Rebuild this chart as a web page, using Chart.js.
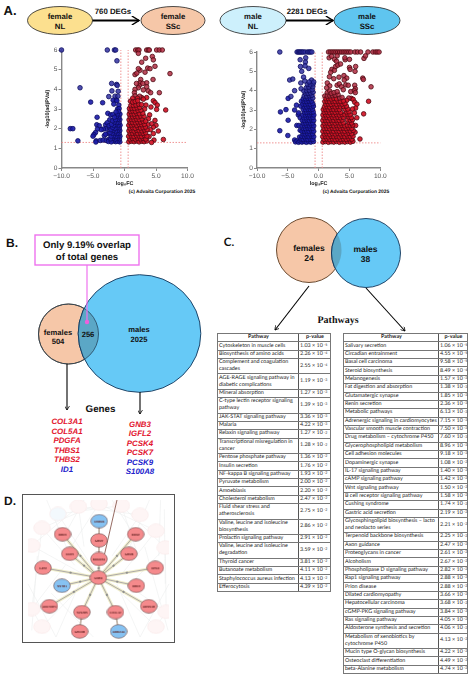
<!DOCTYPE html>
<html>
<head>
<meta charset="utf-8">
<script src="https://cdn.jsdelivr.net/npm/chart.js@4/dist/chart.umd.min.js"></script>
<style>
html, body { margin: 0; padding: 0; background: #fff; text-rendering: geometricPrecision; }
#page { position: relative; width: 474px; height: 679px; overflow: hidden; font-family: "Liberation Sans", sans-serif; }
#page canvas { position: absolute; }
#art { position: absolute; left: 0; top: 0; }
#art text { font-family: "Liberation Sans", sans-serif; font-weight: bold; text-anchor: middle; fill: #111; }
.ptable { position: absolute; border: 1px solid #777; border-bottom: 0; font-family: Lato, sans-serif; font-size: 5.4px; line-height: 7.02px; color: #222; box-sizing: border-box; }
.prow { display: flex; border-bottom: 1px solid #777; }
.pname { flex: 1; padding: .18px 0 .18px 1px; border-right: 1px solid #555; white-space: pre-line; }
.pval { display: flex; align-items: center; padding-left: 1px; box-sizing: border-box; white-space: nowrap; }
.phead { font-weight: bold; text-align: center; justify-content: center; }
.pval sup { font-size: 3.6px; line-height: 0; margin-left: 1px; position: relative; top: -1.3px; }
#netbox { position: absolute; left: 22px; top: 494px; width: 151px; height: 147px; border: 1px solid #555; }
</style>
</head>
<body>
<div id="page">
<svg id="art" width="474" height="679" viewBox="0 0 474 679">
  <defs>
    <marker id="head" viewBox="0 0 10 10" refX="9" refY="5" markerWidth="5" markerHeight="5" orient="auto-start-reverse" markerUnits="userSpaceOnUse">
      <path d="M1 0 L9 5 L1 10" fill="none" stroke="#000" stroke-width="1.5"/>
    </marker>
    <marker id="bighead" viewBox="0 0 10 10" refX="9" refY="5" markerWidth="9" markerHeight="9" orient="auto" markerUnits="userSpaceOnUse">
      <path d="M1 0 L9 5 L1 10" fill="none" stroke="#000" stroke-width="1.6"/>
    </marker>
    <clipPath id="bothB"><circle cx="68.5" cy="334" r="30"/></clipPath>
    <clipPath id="bothC"><circle cx="309" cy="250" r="32.5"/></clipPath>
  </defs>

  <!-- panel A headers -->
  <text x="10" y="15" style="font-size:13px">A.</text>
  <ellipse cx="60" cy="20.5" rx="32.5" ry="14" fill="#fce08f" stroke="#222" stroke-width=".8"/>
  <ellipse cx="173" cy="20.5" rx="32" ry="14" fill="#f6c7a8" stroke="#222" stroke-width=".8"/>
  <ellipse cx="253" cy="20.5" rx="33" ry="14" fill="#cdf0fc" stroke="#222" stroke-width=".8"/>
  <ellipse cx="367" cy="20.5" rx="33" ry="14" fill="#5fc5ef" stroke="#222" stroke-width=".8"/>
  <g style="font-size:7.8px">
    <text x="60" y="19">female</text><text x="60" y="28.5">NL</text>
    <text x="173" y="19">female</text><text x="173" y="28.5">SSc</text>
    <text x="253" y="19">male</text><text x="253" y="28.5">NL</text>
    <text x="367" y="19">male</text><text x="367" y="28.5">SSc</text>
    <text x="113" y="14">760 DEGs</text>
    <text x="307" y="14">2281 DEGs</text>
  </g>
  <line x1="92.5" y1="20.5" x2="139" y2="20.5" stroke="#000" stroke-width="2" marker-end="url(#bighead)"/>
  <line x1="286" y1="20.5" x2="333" y2="20.5" stroke="#000" stroke-width="2" marker-end="url(#bighead)"/>
  <g style="font-size:4.9px">
    <text x="162" y="193">(c) Advaita Corporation 2025</text>
    <text x="356" y="193">(c) Advaita Corporation 2025</text>
  </g>

  <!-- panel B -->
  <text x="12" y="247" style="font-size:12px">B.</text>
  <rect x="35" y="235" width="104" height="30" fill="#fff" stroke="#ee72ee" stroke-width="1.4"/>
  <g style="font-size:9.6px">
    <text x="87" y="248">Only 9.19% overlap</text>
    <text x="87" y="259.5">of total genes</text>
  </g>
  <circle cx="68.5" cy="334" r="30" fill="#f6c7a8" stroke="#5b3a1e" stroke-width=".9"/>
  <ellipse cx="139.5" cy="333.5" rx="61.3" ry="58.8" fill="#66c9f6" stroke="#12355a" stroke-width=".9"/>
  <ellipse cx="139.5" cy="333.5" rx="61.3" ry="58.8" fill="#5ba7c6" stroke="#12355a" stroke-width=".9" clip-path="url(#bothB)"/>
  <circle cx="68.5" cy="334" r="30" fill="none" stroke="#24445c" stroke-width=".8"/>
  <line x1="87" y1="265" x2="87" y2="322" stroke="#ee72ee" stroke-width="1.2"/>
  <circle cx="87" cy="322" r="2.2" fill="#ee60dd"/>
  <g style="font-size:7.6px">
    <text x="58" y="334.5">females</text><text x="58" y="344">504</text>
    <text x="88" y="336.5">256</text>
    <text x="139" y="332">males</text><text x="139" y="341.5">2025</text>
  </g>
  <line x1="67" y1="364" x2="67" y2="410" stroke="#000" stroke-width="1.1" marker-end="url(#head)"/>
  <line x1="140" y1="392" x2="140" y2="414" stroke="#000" stroke-width="1.1" marker-end="url(#head)"/>
  <text x="100.5" y="412" style="font-size:9.8px">Genes</text>
  <g id="genes" style="font-size:7.9px; font-style:italic"></g>

  <!-- panel C -->
  <text x="229" y="246" style="font-size:11.5px; font-family:Lato,sans-serif">C.</text>
  <circle cx="309" cy="250" r="32.5" fill="#f6c7a8" stroke="#5b3a1e" stroke-width=".9"/>
  <circle cx="366" cy="253" r="34.5" fill="#66c9f6" stroke="#12355a" stroke-width=".9"/>
  <circle cx="366" cy="253" r="34.5" fill="#5ba7c6" stroke="#12355a" stroke-width=".9" clip-path="url(#bothC)"/>
  <g style="font-size:8.5px">
    <text x="309" y="250.5">females</text><text x="309" y="261">24</text>
    <text x="365.5" y="251.5">males</text><text x="365.5" y="262">38</text>
  </g>
  <line x1="309" y1="286" x2="275" y2="330" stroke="#000" stroke-width="1.1" marker-end="url(#head)"/>
  <line x1="366" y1="288" x2="405" y2="331" stroke="#000" stroke-width="1.1" marker-end="url(#head)"/>
  <text x="338" y="323" style="font-size:10px; font-family:'Liberation Serif',serif">Pathways</text>

  <!-- panel D -->
  <text x="10" y="505" style="font-size:12px">D.</text>
</svg>

<canvas id="femaleChart" width="156" height="145" style="left:44px;top:42px"></canvas>
<canvas id="maleChart" width="153" height="143" style="left:240px;top:44px"></canvas>
<div id="netbox"></div>
<canvas id="netChart" width="151" height="147" style="left:23px;top:495px"></canvas>
<div id="leftTable" class="ptable" style="left:217px;top:333px;width:114px"></div>
<div id="rightTable" class="ptable" style="left:343px;top:333px;width:125px"></div>
</div>

<script>
const xTicks = [-10, -5, 0, 5, 10];
const yTicks = [0, 1, 2, 3, 4, 5, 6];
const fcCut = 0.58;
const padjCut = 1.3;

const femaleDown = [
  [-10,6],[-2.73,6],[-1.6,6],[-1.4,6],[-1.2,5.45],[-7.06,4.08],[-5.37,3.35],[-3.47,3.32],[-2.04,4.3],[-1.25,4.25],[-1.15,4.2],
  [-1.0,3.9],[-2.0,3.92],[-2.5,3.63],[-1.5,3.65],[-1.05,3.65],[-1.8,3.45],[-1.3,3.45],[-1.2,3.42],[-0.9,3.2],[-1.7,3.25],
  [-1.1,3.0],[-0.85,3.02],[-8.6,2.0],[-8.2,2.0],[-7.4,1.38],[-4.35,2.58],[-4.4,2.2],[-4.0,2.15],[-2.65,2.78],[-2.2,2.7],
  [-1.85,2.72],[-2.35,2.45],[-3.0,2.2],[-2.9,2.0],[-3.35,1.98],[-3.7,1.95],[-4.3,1.98],[-4.6,1.8],[-4.85,1.7],[-5.0,1.62],
  [-3.2,1.65],[-2.6,1.75],[-4.5,1.38],[-4.55,1.32],[-3.85,1.4],[-3.4,1.42],[-2.9,1.4],[-3.0,1.72],[-2.5,1.45],[-2.4,2.05],
  [-2.55,1.35],[-2.75,2.3],[-2.45,2.15],[-0.75,1.33],[-1.05,1.36],[-1.4,1.34],[-1.75,1.37],[-2.1,1.33],[-0.8,1.48],[-1.15,1.5],
  [-1.5,1.47],[-1.85,1.51],[-2.2,1.48],[-0.72,1.62],[-1.05,1.63],[-1.38,1.6],[-1.72,1.64],[-2.12,1.62],[-0.85,1.76],[-1.2,1.75],
  [-1.55,1.78],[-1.95,1.76],[-2.3,1.8],[-0.74,1.9],[-1.08,1.91],[-1.42,1.88],[-1.78,1.92],[-2.15,1.95],[-0.82,2.04],[-1.18,2.05],
  [-1.52,2.02],[-1.88,2.07],[-0.7,2.18],[-1.02,2.18],[-1.38,2.2],[-1.72,2.17],[-2.05,2.22],[-0.86,2.32],[-1.22,2.31],[-1.58,2.34],
  [-1.9,2.4],[-0.74,2.46],[-1.06,2.47],[-1.44,2.46],[-0.88,2.6],[-1.26,2.62],[-1.6,2.58],[-0.72,2.74],[-1.1,2.75],[-0.95,2.88],
  [-1.35,2.85]
];
const femaleUp = [
  [1.77,6],[2.09,6],[2.3,6],[3.52,6],[3.78,6],[3.94,6],[5.1,6],[5.53,6],[6.0,6],[2.2,5.83],[3.36,5.58],[2.73,5.38],[4.42,5.67],
  [4.58,5.5],[4.84,5.17],[3.68,5.08],[4.05,5.05],[3.26,4.87],[2.46,4.97],[2.2,5.05],[1.67,4.75],[1.95,4.82],[7.22,4.8],[4.53,4.5],
  [3.52,4.33],[3.52,4.13],[2.57,4.5],[2.46,4.33],[2.35,4.2],[2.2,4.08],[1.67,4.0],[1.57,3.83],[1.67,3.67],[3.0,3.97],[3.78,3.92],
  [4.15,3.83],[2.73,3.58],[3.52,3.58],[3.0,3.5],[5.53,3.83],[4.58,3.42],[4.84,3.33],[5.2,3.2],[6.54,2.95],[5.1,2.98],[3.99,2.7],
  [4.84,2.42],[5.0,2.17],[4.58,2.08],[4.3,2.25],[5.37,1.88],[4.58,1.75],[6.17,1.45],[4.68,1.42],[4.3,1.3],[3.9,1.6],[4.1,1.95],
  [3.8,2.5],[3.7,2.2],[2.9,4.3],[1.9,4.3],[3.4,3.2],[3.2,3.0],[4.2,3.1],[2.4,3.65],[2.05,3.55],[1.3,3.55],[0.95,3.4],

  [0.68,1.33],[1.1,1.36],[1.52,1.34],[1.94,1.37],[2.32,1.33],[2.75,1.36],[3.12,1.34],[3.55,1.37],
  [0.85,1.47],[1.28,1.5],[1.7,1.47],[2.1,1.51],[2.55,1.48],[2.95,1.5],[3.38,1.47],
  [0.66,1.61],[1.08,1.63],[1.5,1.6],[1.92,1.64],[2.34,1.62],[2.74,1.6],[3.15,1.65],[3.56,1.62],
  [0.88,1.75],[1.3,1.76],[1.72,1.78],[2.12,1.75],[2.52,1.78],[2.96,1.76],[3.36,1.79],
  [0.7,1.89],[1.1,1.91],[1.52,1.88],[1.92,1.92],[2.33,1.9],[2.76,1.89],[3.18,1.93],[3.58,1.95],
  [0.86,2.03],[1.3,2.05],[1.7,2.02],[2.14,2.06],[2.55,2.03],[2.95,2.05],[3.34,2.08],
  [0.68,2.17],[1.12,2.18],[1.5,2.2],[1.94,2.17],[2.35,2.21],[2.75,2.2],[3.15,2.22],
  [0.88,2.31],[1.28,2.32],[1.72,2.3],[2.12,2.34],[2.56,2.33],[2.98,2.36],[3.35,2.38],
  [0.72,2.45],[1.1,2.47],[1.52,2.45],[1.92,2.48],[2.34,2.46],[2.78,2.5],
  [0.9,2.6],[1.3,2.6],[1.7,2.62],[2.14,2.6],[2.55,2.64],[3.1,2.62],
  [0.75,2.74],[1.15,2.75],[1.55,2.74],[1.95,2.77],[2.36,2.76],[2.9,2.78],
  [0.92,2.88],[1.32,2.9],[1.74,2.88],[2.15,2.92],[2.6,2.94],
  [0.78,3.02],[1.18,3.04],[1.6,3.03],[2.0,3.06],[2.42,3.08],
  [1.0,3.17],[1.4,3.18],[1.82,3.2],[2.26,3.24],[2.7,3.22],
  [1.3,3.35],[1.7,3.38],[2.1,3.42]
];
const maleDown = [
  [-6.3,6],[-3.5,6],[-3.3,6],[-3.1,6],[-2.9,6],[-2.7,6],[-2.5,6],[-2.2,6],[-1.8,6],[-1.55,6],[-1.35,6],[-1.1,6],[-2.1,5.7],[-2.15,5.48],
  [-3.0,5.6],[-2.95,5.25],[-2.2,5.28],[-1.6,5.15],[-2.75,5.0],[-2.45,4.7],[-2.9,4.4],[-2.85,4.1],[-1.15,4.55],[-6.3,1.93],[-5.0,1.68],
  [-4.95,2.47],[-6.2,2.9],[-5.3,3.02],[-4.95,3.6],[-4.5,3.7],[-3.9,4.0],[-4.7,4.55],[-4.2,4.6],[-3.6,3.25],[-3.9,3.0],[-3.3,2.75],
  [-3.0,2.6],[-3.55,2.2],[-3.2,2.2],[-3.25,2.85],[-2.9,3.2],[-2.8,3.45],[-3.0,1.95],[-3.1,1.6],[-3.9,1.45],[-3.75,1.35],[-3.5,1.4],
  [-3.25,1.33],[-3.0,1.38],[-2.7,1.34],[-2.35,1.37],[-2.0,1.33],[-1.6,1.36],[-1.25,1.34],[-0.85,1.37],
  [-2.85,1.5],[-2.5,1.48],[-2.1,1.5],[-1.72,1.47],[-1.35,1.5],[-0.95,1.48],[-2.7,1.63],[-2.3,1.62],[-1.92,1.64],[-1.55,1.62],[-1.15,1.64],[-0.8,1.62],
  [-2.55,1.77],[-2.18,1.76],[-1.78,1.78],[-1.38,1.76],[-0.98,1.77],[-2.7,1.9],[-2.3,1.9],[-1.95,1.92],[-1.55,1.9],[-1.15,1.92],[-0.8,1.9],
  [-2.5,2.04],[-2.12,2.04],[-1.72,2.06],[-1.35,2.04],[-0.95,2.05],[-2.7,2.18],[-2.3,2.18],[-1.92,2.2],[-1.5,2.18],[-1.12,2.2],[-0.8,2.18],
  [-2.48,2.32],[-2.08,2.32],[-1.7,2.34],[-1.32,2.32],[-0.95,2.33],[-2.65,2.46],[-2.28,2.46],[-1.88,2.48],[-1.5,2.46],[-1.12,2.48],[-0.8,2.46],
  [-2.42,2.6],[-2.02,2.6],[-1.62,2.62],[-1.28,2.6],[-0.92,2.61],[-2.55,2.74],[-2.15,2.74],[-1.78,2.76],[-1.42,2.74],[-1.08,2.76],[-0.78,2.74],
  [-2.3,2.88],[-1.92,2.88],[-1.55,2.9],[-1.2,2.88],[-0.88,2.9],[-2.5,3.02],[-2.1,3.02],[-1.7,3.04],[-1.32,3.02],[-1.0,3.04],
  [-2.35,3.16],[-1.95,3.16],[-1.55,3.18],[-1.18,3.16],[-0.85,3.2],[-2.55,3.3],[-2.15,3.3],[-1.75,3.32],[-1.35,3.3],[-0.95,3.33],
  [-2.35,3.44],[-1.95,3.44],[-1.55,3.46],[-1.15,3.46],[-2.5,3.58],[-2.12,3.58],[-1.72,3.6],[-1.32,3.58],[-0.95,3.62],
  [-2.35,3.72],[-1.95,3.72],[-1.5,3.74],[-1.1,3.76],[-2.15,3.86],[-1.72,3.86],[-1.3,3.88],[-0.9,3.92],[-2.4,3.98],[-1.95,4.0],[-1.5,4.02],[-1.05,4.05],
  [-2.0,4.15],[-1.6,4.18],[-0.95,4.2],[-1.8,4.32],[-1.35,4.3],[-0.9,4.35],[-1.55,4.45],[-2.25,4.5],[-0.8,4.45]
];
const maleUp = [
  [1.6,6],[1.9,6],[2.2,6],[2.5,6],[2.8,6],[3.1,6],[3.4,6],[3.7,6],[4.0,6],[4.3,6],[4.6,6],[4.9,6],[5.2,6],[5.9,6],[6.3,6],[6.8,6],[8.0,6],
  [8.8,6],[9.2,6],[9.5,6],[9.8,6],[7.35,5.67],[7.6,5.8],[1.7,5.7],[2.1,5.78],[2.6,5.62],[2.9,5.52],[3.0,5.8],[4.3,5.6],[4.25,5.7],[5.0,5.62],
  [2.75,5.25],[3.1,5.32],[3.55,5.38],[2.15,5.1],[2.55,5.05],[1.95,4.95],[5.0,5.2],[5.1,5.1],[6.0,5.25],[5.9,5.0],[1.75,4.72],[2.45,4.62],
  [3.3,4.7],[4.1,4.78],[4.55,4.65],[4.15,4.55],[7.15,4.65],[7.25,4.58],[1.4,4.4],[1.8,4.25],[1.3,4.15],[3.0,4.28],[3.35,4.35],[3.7,4.2],
  [4.0,4.05],[4.4,4.3],[4.8,4.28],[5.2,3.95],[5.85,4.28],[5.95,4.1],[5.8,4.0],[5.95,3.9],[8.5,4.2],[8.1,3.45],[7.3,2.8],[6.7,1.5],[6.2,2.6],
  [6.0,2.2],[5.9,1.85],[5.3,3.6],[5.6,3.55],[5.85,3.4],[6.2,3.3],[4.9,3.62],[4.55,3.5],[6.0,3.1],[5.5,3.05],[5.8,2.85],[1.4,3.9],[1.0,3.72],[1.8,3.98],

  [0.7,1.34],[1.12,1.37],[1.58,1.33],[2.02,1.36],[2.46,1.34],[2.9,1.37],[3.36,1.33],[3.8,1.36],[4.26,1.34],[4.7,1.37],[5.15,1.34],[5.55,1.38],
  [0.88,1.48],[1.35,1.5],[1.8,1.48],[2.24,1.5],[2.68,1.47],[3.12,1.5],[3.58,1.48],[4.02,1.5],[4.48,1.48],[4.92,1.51],[5.38,1.49],
  [0.66,1.62],[1.12,1.63],[1.56,1.61],[2.0,1.64],[2.46,1.62],[2.9,1.64],[3.35,1.61],[3.78,1.64],[4.24,1.62],[4.7,1.65],[5.14,1.62],[5.58,1.64],
  [0.9,1.76],[1.34,1.77],[1.78,1.75],[2.22,1.78],[2.68,1.76],[3.14,1.78],[3.56,1.76],[4.0,1.78],[4.46,1.76],[4.92,1.79],[5.36,1.77],
  [0.68,1.9],[1.12,1.91],[1.56,1.89],[2.02,1.92],[2.44,1.9],[2.9,1.92],[3.34,1.9],[3.8,1.92],[4.24,1.9],[4.7,1.93],[5.14,1.91],[5.6,1.94],
  [0.88,2.04],[1.34,2.05],[1.8,2.03],[2.24,2.06],[2.66,2.04],[3.12,2.06],[3.56,2.04],[4.02,2.06],[4.46,2.04],[4.9,2.07],[5.36,2.05],
  [0.7,2.18],[1.14,2.19],[1.58,2.17],[2.0,2.2],[2.46,2.18],[2.92,2.2],[3.36,2.18],[3.78,2.2],[4.24,2.18],[4.68,2.21],[5.12,2.19],[5.52,2.22],
  [0.9,2.32],[1.36,2.33],[1.78,2.31],[2.22,2.34],[2.68,2.32],[3.14,2.34],[3.58,2.32],[4.0,2.34],[4.92,2.35],[5.34,2.33],
  [0.68,2.46],[1.12,2.47],[1.56,2.45],[2.0,2.48],[2.46,2.46],[2.9,2.48],[3.34,2.46],[3.8,2.48],[4.7,2.49],[5.14,2.47],[5.5,2.5],
  [0.88,2.6],[1.34,2.61],[1.8,2.59],[2.24,2.62],[2.68,2.6],[3.12,2.62],[3.58,2.6],[4.02,2.62],[4.9,2.63],[5.3,2.61],
  [0.7,2.74],[1.14,2.75],[1.58,2.73],[2.0,2.76],[2.46,2.74],[2.9,2.76],[3.36,2.74],[3.8,2.76],[4.26,2.75],[4.72,2.77],[5.1,2.76],
  [0.9,2.88],[1.36,2.89],[1.78,2.87],[2.22,2.9],[2.68,2.88],[3.14,2.9],[3.58,2.88],[4.5,2.9],[4.92,2.91],
  [0.75,3.02],[1.14,3.03],[1.58,3.01],[2.02,3.04],[2.46,3.02],[2.9,3.04],[3.36,3.02],[4.26,3.04],[4.72,3.05],
  [0.95,3.16],[1.36,3.17],[1.8,3.15],[2.24,3.18],[2.68,3.16],[3.12,3.18],[3.58,3.16],[4.02,3.18],[4.5,3.2],
  [1.15,3.3],[1.58,3.31],[2.02,3.29],[2.46,3.32],[2.9,3.3],[3.36,3.32],[3.8,3.3],[4.26,3.33],
  [1.0,3.44],[1.36,3.45],[1.8,3.43],[2.24,3.46],[2.68,3.44],[3.14,3.46],[3.58,3.44],[4.02,3.47],
  [1.2,3.58],[1.6,3.59],[2.02,3.57],[2.46,3.6],[2.9,3.58],[3.4,3.62],[3.8,3.65],
  [1.4,3.72],[1.82,3.73],[2.24,3.74],[2.7,3.76],[3.15,3.8],[2.05,3.86],[2.5,3.9],[3.0,3.95]
];

const geneFemale = ["COL3A1", "COL5A1", "PDGFA", "THBS1", "THBS2", "ID1"];
const geneFemaleDir = ["up", "up", "up", "up", "up", "down"];
const geneMale = ["GNB3", "IGFL2", "PCSK4", "PCSK7", "PCSK9", "S100A8"];
const geneMaleDir = ["up", "up", "up", "up", "down", "down"];

const femalePathways = ["Cytoskeleton in muscle cells", "Biosynthesis of amino acids", "Complement and coagulation\ncascades", "AGE-RAGE signaling pathway in\ndiabetic complications", "Mineral absorption", "C-type lectin receptor signaling\npathway", "JAK-STAT signaling pathway", "Malaria", "Relaxin signaling pathway", "Transcriptional misregulation in\ncancer", "Pentose phosphate pathway", "Insulin secretion", "NF-kappa B signaling pathway", "Pyruvate metabolism", "Amoebiasis", "Cholesterol metabolism", "Fluid shear stress and\natherosclerosis", "Valine, leucine and isoleucine\nbiosynthesis", "Prolactin signaling pathway", "Valine, leucine and isoleucine\ndegradation", "Thyroid cancer", "Butanoate metabolism", "Staphylococcus aureus infection", "Efferocytosis"];
const femaleP = ["1.03", "2.26", "2.55", "1.19", "1.27", "1.39", "3.36", "4.22", "1.27", "1.28", "1.36", "1.76", "1.93", "2.00", "2.20", "2.47", "2.75", "2.86", "2.91", "3.59", "3.81", "4.11", "4.13", "4.39"];
const femaleExp = [-5, -4, -4, -3, -3, -3, -3, -3, -2, -2, -2, -2, -2, -2, -2, -2, -2, -2, -2, -2, -2, -2, -2, -2];

const malePathways = ["Salivary secretion", "Circadian entrainment", "Basal cell carcinoma", "Steroid biosynthesis", "Melanogenesis", "Fat digestion and absorption", "Glutamatergic synapse", "Renin secretion", "Metabolic pathways", "Adrenergic signaling in cardiomyocytes", "Vascular smooth muscle contraction", "Drug metabolism – cytochrome P450", "Glycerophospholipid metabolism", "Cell adhesion molecules", "Dopaminergic synapse", "IL-17 signaling pathway", "cAMP signaling pathway", "Wnt signaling pathway", "B cell receptor signaling pathway", "Cushing syndrome", "Gastric acid secretion", "Glycosphingolipid biosynthesis – lacto\nand neolacto series", "Terpenoid backbone biosynthesis", "Axon guidance", "Proteoglycans in cancer", "Alcoholism", "Phospholipase D signaling pathway", "Rap1 signaling pathway", "Prion disease", "Dilated cardiomyopathy", "Hepatocellular carcinoma", "cGMP-PKG signaling pathway", "Ras signaling pathway", "Aldosterone synthesis and secretion", "Metabolism of xenobiotics by\ncytochrome P450", "Mucin type O-glycan biosynthesis", "Osteoclast differentiation", "beta-Alanine metabolism"];
const maleP = ["1.06", "4.55", "9.58", "8.49", "1.57", "1.38", "1.85", "2.36", "6.13", "7.15", "7.50", "7.60", "8.96", "9.18", "1.08", "1.40", "1.42", "1.50", "1.58", "1.74", "2.19", "2.21", "2.25", "2.47", "2.61", "2.67", "2.82", "2.88", "2.88", "3.66", "3.68", "3.84", "4.05", "4.06", "4.13", "4.22", "4.49", "4.74"];
const maleExp = [-5, -5, -5, -4, -3, -3, -3, -3, -3, -3, -3, -3, -3, -3, -2, -2, -2, -2, -2, -2, -2, -2, -2, -2, -2, -2, -2, -2, -2, -2, -2, -2, -2, -2, -2, -2, -2, -2];

const netNames = ["GNB3", "CHRM1", "GRM7", "BDKRB1", "DRD5", "EDN2", "CCR5", "GRM8", "GIPR", "OPN4", "SSTR1", "DRD2", "ADCYAP1", "ADSS1R", "TAS2R5", "CXCL12", "GHCR8", "ADRA1A"];
const netKind = ["up", "down", "up", "up", "up", "up", "up", "up", "up", "up", "down", "up", "up", "up", "up", "up", "up", "down"];
const netX = [75.3, 76.3, 76, 76, 37, 115.3, 44.7, 108, 16, 136.3, 36.3, 116, 23, 129.3, 57.7, 93.7, 55.3, 97];
const netY = [83.3, 22.7, 43.3, 63.3, 36.7, 36.7, 57.7, 57.7, 72.7, 72.7, 92, 92, 114, 114, 120.3, 120.3, 141, 141];
const spokes = [3, 4, 5, 6, 7, 8, 9, 10, 11, 12, 13, 14, 15];
const chainFrom = [1, 2, 14, 15];
const chainTo = [2, 3, 16, 17];
const faintNodeX = [32, 54, 76, 100, 120, 137, 15, 4, 147, 4, 15, 137, 148];
const faintNodeY = [15, 7, 4, 6, 16, 33, 30, 49, 51, 117, 136, 136, 120];
const faintLines = [
  [32,15,76,83],[54,7,60,50],[76,4,40,60],[100,6,118,60],[120,16,90,60],[137,33,100,80],[15,30,50,70],[4,49,60,80],[147,51,110,90],
  [4,117,40,70],[15,136,50,100],[137,136,100,100],[148,120,105,90],[32,15,100,6],[54,7,120,16],[15,30,76,4],[137,33,76,4],[4,49,54,7],
  [147,51,100,6],[4,117,15,136],[148,120,137,136],[15,30,4,117],[147,51,148,120],[30,147,55,90],[120,147,95,90],[0,90,30,147],[151,90,120,147],
  [20,0,45,60],[130,0,105,60],[60,0,35,45],[90,0,115,40],[146,10,147,90],[142,0,140,60],[125,50,150,140],[10,60,4,140],[25,100,70,147]
];
const brownLine = [[95.3, 0], [82, 58]];

const pointStyles = {
  fill: { down: "rgba(30,30,170,.92)", up: "rgba(212,18,38,.92)" },
  sparse: { down: "rgba(48,48,160,.85)", up: "rgba(176,44,66,.85)" },
  edge: { down: "#0c0c60", up: "#4c0a12" }
};

// canvas text otherwise gets hinted advances and runs too wide at these small sizes
const crispText = { id: "crispText", beforeDraw: chart => { chart.ctx.textRendering = "geometricPrecision"; } };

function volcano(id, down, up, areaLeft, padR, padT) {
  const guide = (data) => ({
    type: "scatter", data: data, showLine: true, borderColor: "#ee8a8a", borderWidth: .9, borderDash: [1.5, 1.5],
    pointRadius: 0, clip: false, order: 3
  });
  const cloud = (pts, kind) => ({
    data: pts.map(p => ({ x: p[0], y: p[1] })),
    backgroundColor: pts.map(p => (p[1] > 3.6 ? pointStyles.sparse[kind] : pointStyles.fill[kind])),
    borderColor: pointStyles.edge[kind],
    borderWidth: .8, pointRadius: 2.3, clip: false, order: 1
  });
  return new Chart(document.getElementById(id), {
    type: "scatter",
    plugins: [crispText],
    data: {
      datasets: [
        guide([{ x: -10, y: padjCut }, { x: 10, y: padjCut }]),
        guide([{ x: -fcCut, y: 0 }, { x: -fcCut, y: 6 }]),
        guide([{ x: fcCut, y: 0 }, { x: fcCut, y: 6 }]),
        cloud(down, "down"),
        cloud(up, "up")
      ]
    },
    options: {
      responsive: false, animation: false, devicePixelRatio: 1,
      layout: { padding: { top: padT, right: padR, left: 0, bottom: 0 } },
      plugins: { legend: { display: false }, tooltip: { enabled: false } },
      scales: {
        x: {
          type: "linear", min: -10, max: 10,
          afterBuildTicks: s => { s.ticks = xTicks.map(v => ({ value: v })); },
          afterFit: s => { s.height = 19; },
          grid: { drawOnChartArea: false, color: "#888", tickLength: 3, lineWidth: 1 },
          border: { color: "#888", width: 1.4 },
          ticks: { color: "#555", padding: 1, font: { size: 6.6, family: "Liberation Sans" }, maxRotation: 0, callback: v => (v < 0 ? "−" + (-v).toFixed(1) : v.toFixed(1)) },
          title: { display: true, text: "log₂FC", color: "#222", padding: 0, font: { size: 5.4, weight: "bold", family: "Liberation Sans" } }
        },
        y: {
          type: "linear", min: 0, max: 6,
          afterBuildTicks: s => { s.ticks = yTicks.map(v => ({ value: v })); },
          afterFit: s => { s.width = areaLeft; },
          grid: { drawOnChartArea: false, color: "#888", tickLength: 3, lineWidth: 1 },
          border: { color: "#888", width: 1.4 },
          ticks: { color: "#555", padding: 1, font: { size: 6.6, family: "Liberation Sans" } },
          title: { display: true, text: "-log10(adjPVal)", color: "#222", padding: 0, font: { size: 5.4, weight: "bold", family: "Liberation Sans" } }
        }
      }
    }
  });
}

volcano("femaleChart", femaleDown, femaleUp, 17.5, 12.5, 8);
volcano("maleChart", maleDown, maleUp, 17, 12.7, 8);

// network panel, nodes are small pre-drawn ellipses used as point styles
function nodeSprite(name, kind, faint) {
  const c = document.createElement("canvas");
  c.width = 18; c.height = 15;
  const g = c.getContext("2d");
  g.beginPath();
  g.ellipse(9, 7.5, 8.3, 6.8, 0, 0, Math.PI * 2);
  g.fillStyle = kind === "down" ? (faint ? "#f3f9fd" : "#86c2f2") : (faint ? "#fef5f5" : "#f58a8c");
  g.fill();
  g.lineWidth = .6;
  g.strokeStyle = faint ? "#f8e8e8" : "#6a4a4a";
  g.stroke();
  if (name) {
    g.fillStyle = "#5a1c1c";
    g.textRendering = "geometricPrecision";
    g.font = "bold 3px 'Liberation Sans'";
    g.textAlign = "center";
    g.textBaseline = "middle";
    g.fillText(name, 9, 7.7);
  }
  return c;
}

const toPoint = i => ({ x: netX[i], y: netY[i] });
const segment = (a, b, color, width, order) => ({
  type: "line", data: [a, b], borderColor: color, borderWidth: width, pointRadius: 0, order: order, clip: false
});
const netSets = [];
faintLines.forEach(l => netSets.push(segment({ x: l[0], y: l[1] }, { x: l[2], y: l[3] }, "#e8eaea", .5, 9)));
spokes.forEach(i => {
  netSets.push(segment(toPoint(0), toPoint(i), "rgba(232,230,180,.7)", 3, 6));
  netSets.push(segment(toPoint(0), toPoint(i), "rgba(120,115,140,.8)", .7, 5));
});
chainFrom.forEach((a, k) => netSets.push(segment(toPoint(a), toPoint(chainTo[k]), "#c4b6aa", 1.8, 5)));
netSets.push(segment({ x: brownLine[0][0], y: brownLine[0][1] }, { x: brownLine[1][0], y: brownLine[1][1] }, "#8a5a50", .9, 4));
netSets.push({
  type: "scatter", data: spokes.map(i => ({ x: (netX[0] + netX[i]) / 2, y: (netY[0] + netY[i]) / 2 })),
  pointStyle: "rect", pointRadius: 1.4, backgroundColor: "#909090", borderWidth: 0,
  rotation: spokes.map(i => Math.atan2(netY[i] - netY[0], netX[i] - netX[0]) * 180 / Math.PI), order: 3
});
netSets.push({
  type: "scatter", data: faintNodeX.map((x, i) => ({ x: x, y: faintNodeY[i] })),
  pointStyle: faintNodeX.map((x, i) => nodeSprite("", i === 0 ? "down" : "up", true)), clip: true, order: 8
});
netSets.push({
  type: "scatter", data: netNames.map((n, i) => toPoint(i)),
  pointStyle: netNames.map((n, i) => nodeSprite(n, netKind[i], false)), clip: false, order: 1
});

new Chart(document.getElementById("netChart"), {
  type: "scatter",
  data: { datasets: netSets },
  options: {
    responsive: false, animation: false, devicePixelRatio: 1,
    layout: { padding: 0 },
    plugins: { legend: { display: false }, tooltip: { enabled: false } },
    scales: {
      x: { type: "linear", display: false, min: 0, max: 151 },
      y: { type: "linear", display: false, min: 0, max: 147, reverse: true }
    }
  }
});

// gene lists
const svgNS = "http://www.w3.org/2000/svg";
const geneColor = { up: "#e2142e", down: "#2222cc" };
function addGenes(names, dirs, x, y0, step) {
  names.forEach((n, i) => {
    const t = document.createElementNS(svgNS, "text");
    t.setAttribute("x", x);
    t.setAttribute("y", y0 + i * step);
    t.style.fill = geneColor[dirs[i]];
    t.textContent = n;
    document.getElementById("genes").appendChild(t);
  });
}
addGenes(geneFemale, geneFemaleDir, 67, 424.2, 9.5);
addGenes(geneMale, geneMaleDir, 140, 426.5, 9.5);

// pathway tables
function fillTable(id, names, vals, exps, valueWidth) {
  let html = `<div class="prow"><div class="pname phead" style="font-weight:bold;text-align:center">Pathway</div><div class="pval phead" style="width:${valueWidth}px">p-value</div></div>`;
  names.forEach((n, i) => {
    html += `<div class="prow"><div class="pname">${n}</div><div class="pval" style="width:${valueWidth}px">${vals[i]} × 10<sup>${exps[i]}</sup></div></div>`;
  });
  document.getElementById(id).innerHTML = html;
}
fillTable("leftTable", femalePathways, femaleP, femaleExp, 31);
fillTable("rightTable", malePathways, maleP, maleExp, 28);
</script>
</body>
</html>
